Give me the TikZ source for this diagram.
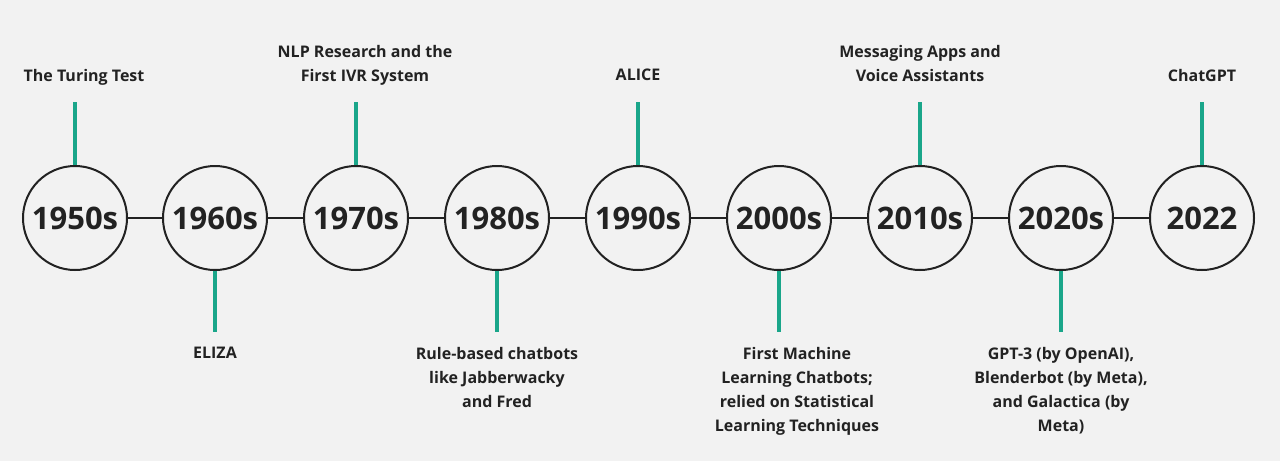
\documentclass[tikz,border=0pt]{standalone}
\usepackage{fontspec}
\setmainfont{Open Sans}
\definecolor{teal1}{HTML}{1AA68A}
\definecolor{bg}{HTML}{F2F2F2}
\definecolor{ink}{HTML}{222222}
\begin{document}
\begin{tikzpicture}[x=1pt,y=-1pt,
  yr/.style={circle,draw=ink,line width=2pt,minimum size=104pt,inner sep=0pt,font=\bfseries\fontsize{31}{34}\selectfont,text=ink},
  tick/.style={draw=teal1,line width=3.5pt},
  lbl/.style={font=\fontsize{16}{24}\selectfont\bfseries,text=ink,align=center,anchor=north,inner sep=0pt},
  link/.style={draw=ink,line width=1.6pt}]
\fill[bg] (0,0) rectangle (1280,461);
\useasboundingbox (0,0) rectangle (1280,461);
\foreach \n/\x/\t in {a/75/1950s,b/215/1960s,c/356/1970s,d/497/1980s,e/638/1990s,f/779/2000s,g/920/2010s,h/1061/2020s,i/1202/2022}
  \node[yr] (\n) at (\x,218) {\t};
\foreach \p/\q in {a/b,b/c,c/d,d/e,e/f,f/g,g/h,h/i} \draw[link] (\p) -- (\q);
\foreach \n/\x in {a/75,c/356,e/638,g/920,i/1202}{
  \coordinate (t\n) at (\x,102);
  \draw[tick] (t\n) -- (\n.north);}
\foreach \n/\x in {b/215,d/497,f/779,h/1061}{
  \coordinate (b\n) at (\x,332);
  \draw[tick] (\n.south) -- (b\n);}
\node[lbl] (la) at (84,69) {The Turing Test};
\node[lbl] (lc) at (365,45) {NLP Research and the\\First IVR System};
\node[lbl] (le) at (638,69) {ALICE};
\node[lbl] (lg) at (920,45) {Messaging Apps and\\Voice Assistants};
\node[lbl] (li) at (1202,69) {ChatGPT};
\node[lbl] (lb) at (215,347) {ELIZA};
\node[lbl] (ld) at (497,347) {Rule-based chatbots\\like Jabberwacky\\and Fred};
\node[lbl] (lf) at (797,347) {First Machine\\Learning Chatbots;\\relied on Statistical\\Learning Techniques};
\node[lbl] (lh) at (1061,347) {GPT-3 (by OpenAI),\\Blenderbot (by Meta),\\and Galactica (by\\Meta)};
\end{tikzpicture}
\end{document}
